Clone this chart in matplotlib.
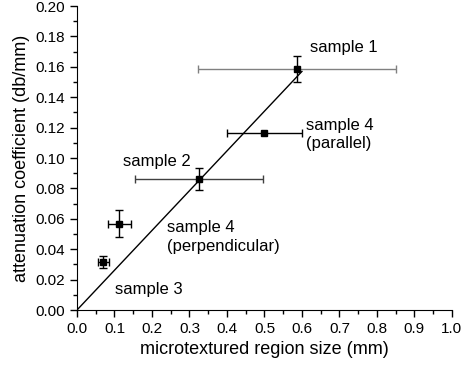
import matplotlib
matplotlib.use("Agg")
import matplotlib.pyplot as plt
from matplotlib.ticker import MultipleLocator

plt.rcParams['font.family'] = ['Liberation Sans', 'DejaVu Sans']

# measured samples: region size (mm) vs attenuation coefficient (db/mm)
names = ["sample 1", "sample 4\n(parallel)", "sample 2", "sample 4\n(perpendicular)", "sample 3"]
size_mm = [0.587, 0.500, 0.325, 0.113, 0.070]
size_err = [0.265, 0.100, 0.170, 0.030, 0.015]
atten = [0.1585, 0.1165, 0.0862, 0.0568, 0.0318]
atten_err = [0.0085, 0.0, 0.007, 0.009, 0.004]
xerr_colors = ["#808080", "black", "#404040", "black", "black"]

# linear fit through origin
fit_x = [0.0, 0.6]
fit_y = [0.0, 0.157]

# label anchors (left / center)
label_x = [0.621, 0.612, 0.123, 0.239, 0.101]
label_y = [0.173, 0.1155, 0.098, 0.048, 0.0138]

fig = plt.figure(figsize=(4.74, 3.79), dpi=100)
ax = fig.add_axes([0.1624, 0.182, 0.791, 0.802])

ax.plot(fit_x, fit_y, color="black", lw=1.0)

for i in range(len(names)):
    ax.errorbar(size_mm[i], atten[i], xerr=size_err[i], fmt="none",
                ecolor=xerr_colors[i], elinewidth=1.0, capsize=3, capthick=1.0)
    if atten_err[i] > 0:
        ax.errorbar(size_mm[i], atten[i], yerr=atten_err[i], fmt="none",
                    ecolor="black", elinewidth=1.0, capsize=3, capthick=1.0)
    ax.plot(size_mm[i], atten[i], "s", color="black", ms=4.5)
    ax.text(label_x[i], label_y[i], names[i], fontsize=12, ha="left", va="center",
            linespacing=1.3)

ax.set_xlim(0, 1.0)
ax.set_ylim(0, 0.20)
ax.xaxis.set_major_locator(MultipleLocator(0.1))
ax.xaxis.set_minor_locator(MultipleLocator(0.05))
ax.yaxis.set_major_locator(MultipleLocator(0.02))
ax.yaxis.set_minor_locator(MultipleLocator(0.01))
ax.xaxis.set_major_formatter(matplotlib.ticker.FormatStrFormatter("%.1f"))
ax.yaxis.set_major_formatter(matplotlib.ticker.FormatStrFormatter("%.2f"))
ax.tick_params(which="major", direction="out", length=5, width=1, labelsize=11)
ax.tick_params(which="minor", direction="out", length=3, width=1)

ax.spines["top"].set_visible(False)
ax.spines["right"].set_visible(False)

ax.set_xlabel("microtextured region size (mm)", fontsize=13, labelpad=4)
ax.set_ylabel("attenuation coefficient (db/mm)", fontsize=13, labelpad=4)

fig.savefig("out.png", dpi=100)
